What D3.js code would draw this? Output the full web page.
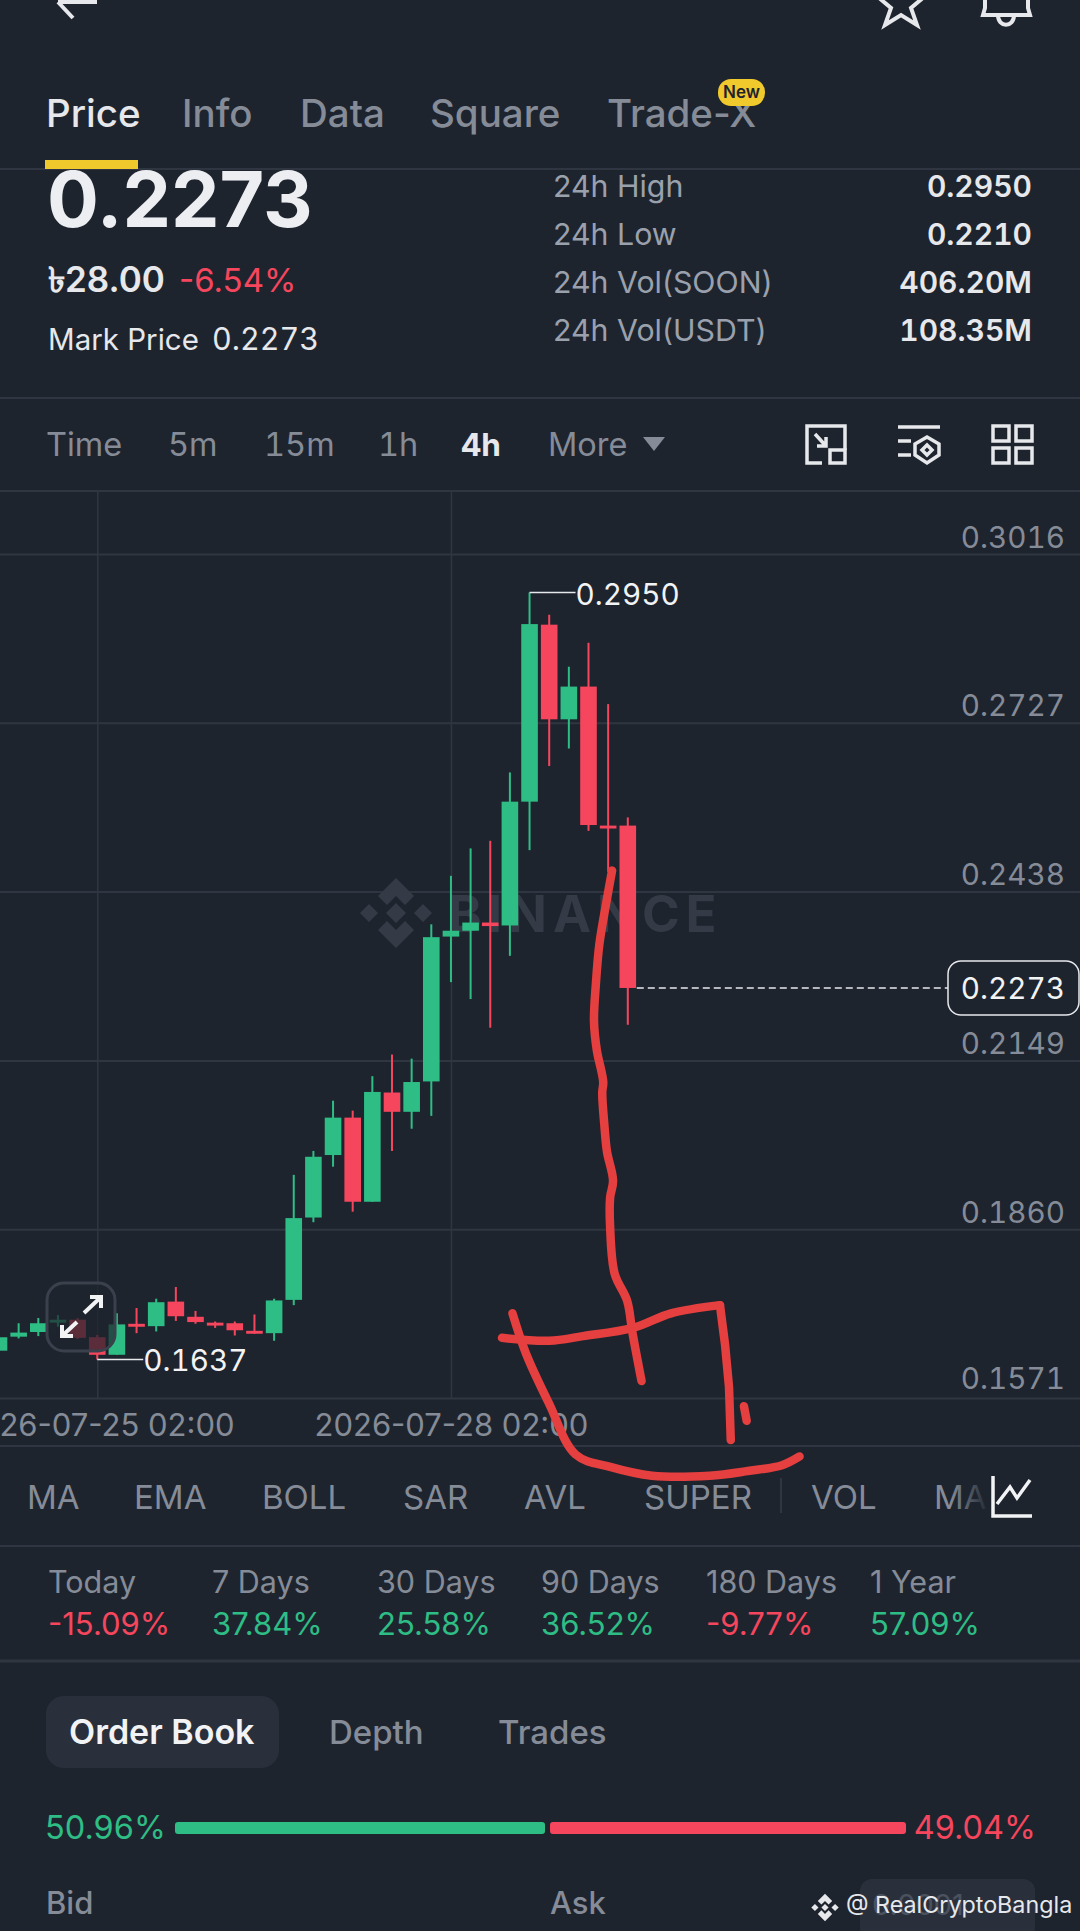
<!DOCTYPE html>
<html>
<head>
<meta charset="utf-8">
<script src="https://cdn.jsdelivr.net/npm/d3@7"></script>
<style>
html, body { margin: 0; padding: 0; background: #1e242e; overflow: hidden; }
svg { display: block; }
text { font-family: Inter, "Noto Sans", "DejaVu Sans", sans-serif; }
.tab { font-variant-numeric: tabular-nums; }
</style>
</head>
<body>
<script>
// 4h candles, left to right
var candleTimes = [
  '2026-07-24 06:00','2026-07-24 10:00','2026-07-24 14:00','2026-07-24 18:00','2026-07-24 22:00',
  '2026-07-25 02:00','2026-07-25 06:00','2026-07-25 10:00','2026-07-25 14:00','2026-07-25 18:00','2026-07-25 22:00',
  '2026-07-26 02:00','2026-07-26 06:00','2026-07-26 10:00','2026-07-26 14:00','2026-07-26 18:00','2026-07-26 22:00',
  '2026-07-27 02:00','2026-07-27 06:00','2026-07-27 10:00','2026-07-27 14:00','2026-07-27 18:00','2026-07-27 22:00',
  '2026-07-28 02:00','2026-07-28 06:00','2026-07-28 10:00','2026-07-28 14:00','2026-07-28 18:00','2026-07-28 22:00',
  '2026-07-29 02:00','2026-07-29 06:00','2026-07-29 10:00','2026-07-29 14:00'
];
var openPrices  = [0.1652,0.1676,0.1684,0.1700,0.1705,0.1675,0.1645,0.1698,0.1694,0.1736,0.1710,0.1700,0.1699,0.1686,0.1682,0.1739,0.1880,0.1987,0.2051,0.1907,0.2094,0.2061,0.2113,0.2361,0.2371,0.2385,0.2380,0.2592,0.2895,0.2733,0.2789,0.2551,0.2551];
var highPrices  = [0.1681,0.1699,0.1708,0.1713,0.1708,0.1679,0.1716,0.1725,0.1741,0.1761,0.1720,0.1702,0.1702,0.1714,0.1741,0.1953,0.1994,0.2080,0.2063,0.2122,0.2159,0.2152,0.2382,0.2465,0.2512,0.2525,0.2642,0.2950,0.2912,0.2823,0.2864,0.2759,0.2565];
var lowPrices   = [0.1641,0.1673,0.1677,0.1693,0.1672,0.1637,0.1645,0.1682,0.1685,0.1703,0.1698,0.1691,0.1678,0.1681,0.1669,0.1730,0.1872,0.1967,0.1890,0.1907,0.1994,0.2032,0.2054,0.2283,0.2254,0.2205,0.2328,0.2509,0.2653,0.2683,0.2542,0.2472,0.2210];
var closePrices = [0.1675,0.1683,0.1699,0.1705,0.1674,0.1645,0.1697,0.1693,0.1735,0.1711,0.1701,0.1695,0.1687,0.1681,0.1738,0.1879,0.1984,0.2051,0.1907,0.2095,0.2061,0.2112,0.2360,0.2371,0.2385,0.2379,0.2592,0.2896,0.2733,0.2789,0.2552,0.2546,0.2273];
var priceTicks = [0.3016,0.2727,0.2438,0.2149,0.1860,0.1571];
var timeTicks = [5,23];
var lastPrice = 0.2273;
var highMark = 0.2950, highIndex = 27;
var lowMark = 0.1637, lowIndex = 5;

// red pen strokes over the chart, in [candle index, price]
var penStroke1 = [[31.2,0.2474],[30.9,0.2418],[30.55,0.2347],[30.38,0.2282],[30.28,0.2216],[30.42,0.2167],[30.75,0.2112],[30.7,0.2094],[30.81,0.2037],[30.94,0.1993],[31.25,0.1943],[31.1,0.1914],[31.1,0.1864],[31.33,0.1784],[31.97,0.1737],[32.23,0.1684],[32.7,0.1600]];
var penStroke2a = [[25.6,0.1674],[28.0,0.1669],[29.72,0.1677],[32.26,0.1691],[34.2,0.1716],[36.69,0.1730]];
var penStroke2b = [[36.69,0.1730],[36.95,0.1662],[37.15,0.1590],[37.24,0.1499]];
var penStroke3 = [[26.13,0.1716],[26.82,0.1647],[28.0,0.1561],[29.35,0.1474],[31.1,0.1453],[33.23,0.1438],[36.16,0.1438],[38.1,0.1446],[39.85,0.1456],[40.74,0.1471]];
var penDot = [[37.91,0.1557],[38.05,0.1532]];

var topTabs = ['Price','Info','Data','Square','Trade-X'];
var statNames = ['24h High','24h Low','24h Vol(SOON)','24h Vol(USDT)'];
var statValues = ['0.2950','0.2210','406.20M','108.35M'];
var intervals = ['Time','5m','15m','1h','4h','More'];
var indicators = ['MA','EMA','BOLL','SAR','AVL','SUPER','VOL','MA'];
var periods = ['Today','7 Days','30 Days','90 Days','180 Days','1 Year'];
var periodChanges = [-15.09,37.84,25.58,36.52,-9.77,57.09];
var bookTabs = ['Order Book','Depth','Trades'];
var bidShare = 50.96, askShare = 49.04;

var bg = '#1e242e', lineCol = '#2f3641', grey = '#858c98', soft = '#e6e8ec';
var green = '#2ebd85', red = '#f6465d', yellow = '#f0c92d', pen = '#e5403f';

var svg = d3.select('body').append('svg')
  .attr('width', 1080)
  .attr('height', 1931);

svg.append('rect').attr('width', 1080).attr('height', 1931).attr('fill', bg);

function label(x, y, str, size, col, weight, anchor) {
  return svg.append('text')
    .attr('x', x).attr('y', y)
    .attr('font-size', size)
    .attr('font-weight', weight || 400)
    .attr('text-anchor', anchor || 'start')
    .attr('fill', col)
    .text(str);
}
function rule(y, w) {
  svg.append('line').attr('x1', 0).attr('x2', 1080).attr('y1', y).attr('y2', y)
    .attr('stroke', lineCol).attr('stroke-width', w || 2);
}

// top bar
var icons = svg.append('g').attr('fill', 'none').attr('stroke', soft).attr('stroke-width', 4);
icons.append('path').attr('d', 'M97 2H58M58 2L73 18');
icons.append('path').attr('d', 'M878 -3L891 8L885 25L901 15L917 25L911 8L924 -3');
icons.append('path').attr('d', 'M985 -8V8L983 15H1030L1028 8V-8M998 15C998 28 1014 28 1014 15');

var tabX = [46,182,300,430,607];
topTabs.forEach(function(t, i) {
  label(tabX[i], 127, t, 38.5, i == 0 ? soft : grey, 500);
});
svg.append('rect').attr('x', 718).attr('y', 79).attr('width', 47).attr('height', 27).attr('rx', 13).attr('fill', yellow);
label(741.5, 98, 'New', 17, '#1e242e', 600, 'middle');
rule(169);
svg.append('rect').attr('x', 45).attr('y', 160).attr('width', 93).attr('height', 9).attr('fill', yellow);

// price block
label(47, 227, '0.2273', 77, '#eceef2', 700);
label(48, 292, '৳28.00', 35, soft, 600);
label(179, 292, '-6.54%', 33, red, 400);
label(48, 350, 'Mark Price', 29.5, soft, 400);
label(212, 350, '0.2273', 30.5, soft, 400).attr('class', 'tab');
var statY = [197,245,293,341];
statNames.forEach(function(t, i) {
  label(553, statY[i], t, 30.3, '#9aa1ad', 400);
  label(1032, statY[i], statValues[i], 30, soft, 600, 'end').attr('class', 'tab');
});
rule(398);

// interval row
var intervalX = [46,168,264,378,461,548];
intervals.forEach(function(t, i) {
  label(intervalX[i], 456, t, t == '4h' ? 31.5 : 32.5, t == '4h' ? soft : grey, t == '4h' ? 700 : 400).attr('class', 'tab');
});
svg.append('path').attr('d', 'M643 437H665L654 451Z').attr('fill', grey);
var tools = svg.append('g').attr('fill', 'none').attr('stroke', soft).attr('stroke-width', 3.5);
tools.append('path').attr('d', 'M822 463H807V426H845V450M815 434L826 446M826 437V446H817');
tools.append('rect').attr('x', 830).attr('y', 450).attr('width', 15).attr('height', 13);
tools.append('path').attr('d', 'M898 427H940M898 441H911M898 455H911');
tools.append('path').attr('d', 'M927 437L939 444V455L927 463L915 455V444Z');
tools.append('path').attr('d', 'M927 445L932 450L927 455L922 450Z');
tools.append('rect').attr('x', 993).attr('y', 426).attr('width', 16).attr('height', 15);
tools.append('rect').attr('x', 1016).attr('y', 426).attr('width', 16).attr('height', 15);
tools.append('rect').attr('x', 993).attr('y', 448).attr('width', 16).attr('height', 15);
tools.append('rect').attr('x', 1016).attr('y', 448).attr('width', 16).attr('height', 15);
rule(491);

// chart scales
var x = d3.scaleLinear().domain([0, candleTimes.length - 1]).range([-1, 627.8]);
var y = d3.scaleLinear().domain([0.3016, 0.1571]).range([554, 1398]);

// grid and axes
var xAxis = d3.axisBottom(x)
  .tickValues(timeTicks)
  .tickSize(-(1398 - 491))
  .tickFormat(function(i) { return candleTimes[i]; });
var xg = svg.append('g').attr('transform', 'translate(0,1398)').call(xAxis);
xg.select('.domain').remove();
xg.selectAll('line').attr('stroke', lineCol).attr('stroke-width', 1.5);
xg.selectAll('text').attr('y', 38).attr('dy', 0).attr('font-size', 31).attr('fill', grey).attr('font-family', 'Inter');

var yAxis = d3.axisLeft(y)
  .tickValues(priceTicks)
  .tickSize(1080)
  .tickFormat(d3.format('.4f'));
var yg = svg.append('g').attr('transform', 'translate(1080,0)').call(yAxis);
yg.select('.domain').remove();
yg.selectAll('line').attr('stroke', lineCol).attr('stroke-width', 2);
yg.selectAll('text').attr('class', 'tab').attr('x', -15).attr('dy', function(d) { return d == 0.1571 ? -10 : -7; }).attr('font-size', 29.7).attr('fill', grey)
  .attr('text-anchor', 'end').attr('font-family', 'Inter');
rule(1446);

// watermark
var wm = svg.append('g').attr('fill', '#343b47');
wm.append('path').attr('d', 'M396 878L414 896L405 905L396 896L387 905L378 896ZM369 904L378 913L369 922L360 913ZM423 904L432 913L423 922L414 913ZM396 903L406 913L396 923L386 913ZM387 921L396 930L405 921L414 930L396 948L378 930Z');
wm.append('text').attr('x', 448).attr('y', 932).attr('font-size', 51).attr('font-weight', 700)
  .attr('letter-spacing', 6).attr('font-family', '"Liberation Sans"').text('BINANCE');

// candles
var candles = svg.append('g').selectAll('g')
  .data(candleTimes)
  .join('g')
  .attr('fill', function(d, i) { return closePrices[i] >= openPrices[i] ? green : red; });
candles.append('rect')
  .attr('x', function(d, i) { return x(i) - 1; })
  .attr('width', 2)
  .attr('y', function(d, i) { return y(highPrices[i]); })
  .attr('height', function(d, i) { return y(lowPrices[i]) - y(highPrices[i]); });
candles.append('rect')
  .attr('x', function(d, i) { return x(i) - 8.3; })
  .attr('width', 16.6)
  .attr('y', function(d, i) { return y(Math.max(openPrices[i], closePrices[i])); })
  .attr('height', function(d, i) { return Math.max(2.5, Math.abs(y(openPrices[i]) - y(closePrices[i]))); });

// last price line and tag
svg.append('line')
  .attr('x1', x(candleTimes.length - 1) + 9).attr('x2', 948)
  .attr('y1', y(lastPrice)).attr('y2', y(lastPrice))
  .attr('stroke', soft).attr('stroke-width', 1.5).attr('stroke-dasharray', '7 4');
svg.append('rect').attr('x', 948).attr('y', y(lastPrice) - 27).attr('width', 131).attr('height', 54).attr('rx', 13)
  .attr('fill', bg).attr('stroke', soft).attr('stroke-width', 1.5);
label(1065, y(lastPrice) + 11, d3.format('.4f')(lastPrice), 29.7, '#f2f3f5', 400, 'end').attr('class', 'tab');

// high and low markers
function marker(i, v) {
  svg.append('line').attr('x1', x(i)).attr('x2', x(i) + 46).attr('y1', y(v)).attr('y2', y(v))
    .attr('stroke', soft).attr('stroke-width', 1.5);
  label(x(i) + 46, y(v) + 12, d3.format('.4f')(v), 29.7, '#f2f3f5', 400).attr('class', 'tab');
}
marker(highIndex, highMark);
marker(lowIndex, lowMark);

// expand button
svg.append('rect').attr('x', 47).attr('y', 1283).attr('width', 68).attr('height', 68).attr('rx', 17)
  .attr('fill', bg).attr('fill-opacity', 0.72).attr('stroke', '#3a414d').attr('stroke-width', 3);
svg.append('path').attr('d', 'M84 1313L101 1297M90 1297H101V1308M77 1322L62 1336M62 1325V1336H73')
  .attr('fill', 'none').attr('stroke', '#f2f3f5').attr('stroke-width', 4);

// indicator row
var indicatorX = [27,134,262,403,524,644,811,934];
indicators.forEach(function(t, i) {
  label(indicatorX[i], 1509, t, 33, grey, 400);
});
svg.append('line').attr('x1', 781).attr('x2', 781).attr('y1', 1478).attr('y2', 1513).attr('stroke', lineCol).attr('stroke-width', 2);
var fade = svg.append('defs').append('linearGradient').attr('id', 'fade');
fade.append('stop').attr('offset', 0).attr('stop-color', bg).attr('stop-opacity', 0);
fade.append('stop').attr('offset', 1).attr('stop-color', bg).attr('stop-opacity', 1);
svg.append('rect').attr('x', 950).attr('y', 1470).attr('width', 40).attr('height', 50).attr('fill', 'url(#fade)');
svg.append('path').attr('d', 'M993 1476V1516H1032M997 1504L1010 1487L1017 1498L1030 1480')
  .attr('fill', 'none').attr('stroke', '#f2f3f5').attr('stroke-width', 3.5);
rule(1546);

// change over periods
var periodX = [48,212,377,541,706,870];
periods.forEach(function(t, i) {
  label(periodX[i], 1593, t, 30.5, grey, 400);
  label(periodX[i], 1635, periodChanges[i].toFixed(2) + '%', 31, periodChanges[i] < 0 ? red : green, 400);
});
rule(1661, 3);

// order book
svg.append('rect').attr('x', 46).attr('y', 1696).attr('width', 233).attr('height', 72).attr('rx', 18).attr('fill', '#2a303b');
var bookX = [69,329,498];
bookTabs.forEach(function(t, i) {
  label(bookX[i], 1744, t, i == 0 ? 34 : 33, i == 0 ? '#f2f3f5' : grey, i == 0 ? 600 : 500);
});
label(45, 1839, bidShare.toFixed(2) + '%', 32.5, green, 400);
label(1036, 1839, askShare.toFixed(2) + '%', 32.5, red, 400, 'end');
var share = d3.scaleLinear().domain([0, 100]).range([175, 906]);
svg.append('rect').attr('x', share(0)).attr('y', 1822).attr('width', share(bidShare) - share(0) - 2.5).attr('height', 12).attr('rx', 3).attr('fill', green);
svg.append('rect').attr('x', share(bidShare) + 2.5).attr('y', 1822).attr('width', share(askShare) - share(0) - 2.5).attr('height', 12).attr('rx', 3).attr('fill', red);

label(46, 1914, 'Bid', 31, grey, 500);
label(550, 1914, 'Ask', 31, grey, 500);
svg.append('rect').attr('x', 860).attr('y', 1879).attr('width', 175).attr('height', 60).attr('rx', 12).attr('fill', '#2a303b');
label(872, 1915, '0.0001', 29, '#4b525e', 400);
svg.append('path').attr('d', 'M825 1890L835 1900L830 1905L825 1900L820 1905L815 1900ZM811 1904L816 1909L811 1914L806 1909ZM839 1904L844 1909L839 1914L834 1909ZM825 1904L830 1909L825 1914L820 1909ZM820 1913L825 1918L830 1913L835 1918L825 1928L815 1918Z')
  .attr('transform', 'translate(231 533) scale(0.72)')
  .attr('fill', '#e6e8ec');
label(846, 1913, '@ RealCryptoBangla', 23.3, '#e6e8ec', 400);

// red pen on top of everything
var penCurve = d3.line().x(function(d) { return x(d[0]); }).y(function(d) { return y(d[1]); }).curve(d3.curveCatmullRom);
var penLine = d3.line().x(function(d) { return x(d[0]); }).y(function(d) { return y(d[1]); });
var penGroup = svg.append('g').attr('fill', 'none').attr('stroke', pen).attr('stroke-width', 8.5)
  .attr('stroke-linecap', 'round').attr('stroke-linejoin', 'round');
penGroup.append('path').attr('d', penCurve(penStroke1));
penGroup.append('path').attr('d', penCurve(penStroke2a));
penGroup.append('path').attr('d', penLine(penStroke2b));
penGroup.append('path').attr('d', penCurve(penStroke3));
penGroup.append('path').attr('d', penLine(penDot));
</script>
</body>
</html>
